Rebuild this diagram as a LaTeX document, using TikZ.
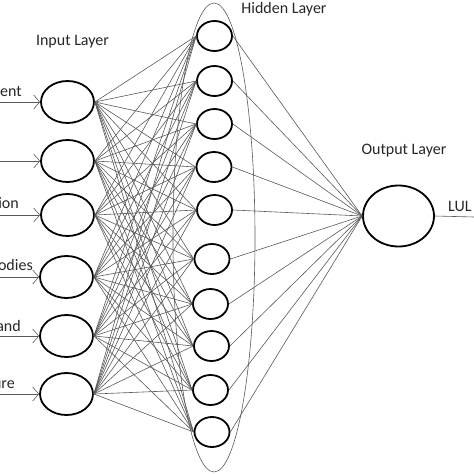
\documentclass[tikz,border=0pt]{standalone}
\usepackage{fontspec}
\setmainfont{Carlito}
\usetikzlibrary{shapes.geometric,arrows.meta}
\begin{document}
\begin{tikzpicture}[x=1pt,y=-1pt,
  neuron/.style={ellipse,draw=black,line width=1.8pt,inner sep=0pt},
  inn/.style={neuron,minimum width=53pt,minimum height=42pt},
  hid/.style={neuron,minimum width=35pt,minimum height=30pt},
  outn/.style={neuron,minimum width=71pt,minimum height=61pt},
  conn/.style={draw=black!65,line width=0.6pt},
  inarrow/.style={conn,-{Straight Barb[length=6pt,width=14pt,line width=0.6pt]}},
  lbl/.style={font=\fontsize{16}{18}\selectfont,text=black!85,inner sep=0pt},
  grp/.style={ellipse,draw=black!65,line width=0.6pt,inner sep=0pt,minimum width=82pt,minimum height=469pt}
]
\useasboundingbox (0,0) rectangle (474,474);
\clip (0,0) rectangle (474,474);
% group ellipse
\node[grp] (group) at (214,237.5) {};
% input nodes
\node[inn] (i1) at (67.5,102) {};
\node[inn] (i2) at (67.5,161) {};
\node[inn] (i3) at (67.5,215) {};
\node[inn] (i4) at (66.5,277) {};
\node[inn] (i5) at (66.5,336) {};
\node[inn] (i6) at (66.5,394) {};
% hidden nodes
\node[hid] (h1) at (214.5,36) {};
\node[hid] (h2) at (214.5,81) {};
\node[hid] (h3) at (214.5,124) {};
\node[hid] (h4) at (214,167) {};
\node[hid] (h5) at (214.5,210) {};
\node[hid] (h6) at (212,259) {};
\node[hid] (h7) at (210.5,304) {};
\node[hid] (h8) at (211.5,346) {};
\node[hid] (h9) at (210.5,390) {};
\node[hid] (h10) at (212,432) {};
% output node
\node[outn] (o) at (398.5,216) {};
% connections input -> hidden
\foreach \i in {1,...,6}{
  \foreach \h in {1,...,10}{
    \draw[conn] (i\i.east) -- (h\h.west);
  }
}
% hidden -> output
\foreach \h in {1,...,10}{
  \draw[conn] (h\h.east) -- (o.west);
}
% input arrows
\foreach \i/\y in {1/102,2/161,3/215,4/277,5/336,6/394}{
  \coordinate (s\i) at (0,\y);
  \draw[inarrow] (s\i) -- (i\i.west);
}
% output line
\coordinate (lulend) at (474,217);
\draw[conn] (o.east) -- (lulend);
% labels
\node[lbl,anchor=base] (tin) at (72.5,45) {Input Layer};
\node[lbl,anchor=base] (thid) at (284,13) {Hidden Layer};
\node[lbl,anchor=base] (tout) at (404,154) {Output Layer};
\node[lbl,anchor=base west] (tlul) at (448,211) {LUL};
\node[lbl,anchor=base east] (l1) at (22,96) {ent};
\node[lbl,anchor=base east] (l3) at (19,208) {ion};
\node[lbl,anchor=base east] (l4) at (33,270) {odies};
\node[lbl,anchor=base east] (l5) at (21,331) {and};
\node[lbl,anchor=base east] (l6) at (15,388) {ure};
\end{tikzpicture}
\end{document}
